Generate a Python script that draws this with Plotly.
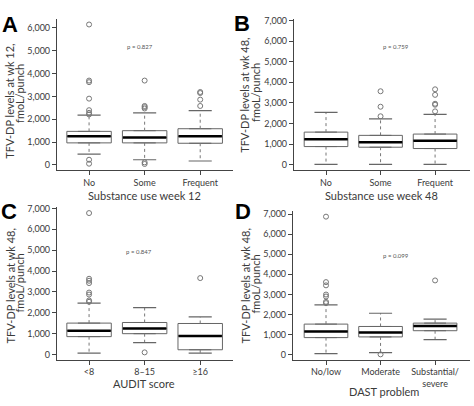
import plotly.graph_objects as go
from plotly.subplots import make_subplots

# A: substance use week 12
a_cats = ["No", "Some", "Frequent"]
a_q1 = [967, 967, 950]
a_med = [1255, 1198, 1255]
a_q3 = [1470, 1500, 1585]
a_lo = [476, 230, 175]
a_hi = [2180, 2280, 2380]
a_out = [[6140, 3690, 3620, 2900, 2395, 2280, 2210, 230, 57],
         [3690, 2580, 2530, 2470, 115, 45],
         [3190, 3145, 2857, 2580]]
a_p = "p = 0.827"

# B: substance use week 48
b_cats = ["No", "Some", "Frequent"]
b_q1 = [880, 849, 785]
b_med = [1232, 1088, 1168]
b_q3 = [1582, 1424, 1487]
b_lo = [20, 20, 20]
b_hi = [2540, 2224, 2446]
b_out = [[],
         [3565, 2814, 2350],
         [3660, 3390, 2958, 2910, 2590]]
b_p = "p = 0.759"

# C: AUDIT score
c_cats = ["<8", "8–15", "≥16"]
c_q1 = [851, 993, 221]
c_med = [1135, 1245, 883]
c_q3 = [1500, 1530, 1482]
c_lo = [63, 568, 63]
c_hi = [2460, 2240, 1797]
c_out = [[6780, 3628, 3533, 3420, 2966, 2870, 2587, 2522],
         [95],
         [3660]]
c_p = "p = 0.847"

# D: DAST problem
d_cats = ["No/low", "Moderate", "Substantial/<br>severe"]
d_q1 = [849, 883, 1192]
d_med = [1158, 1109, 1423]
d_q3 = [1521, 1403, 1570]
d_lo = [49, 98, 750]
d_hi = [2483, 2061, 1766]
d_out = [[6870, 3612, 3450, 2993, 2895, 2630, 2566],
         [15],
         [3695]]
d_p = "p = 0.099"

W, H = 474, 406
FONT = "Lato"
TXT = "#3a3a3a"
BOX = "#666666"
PT = "#777777"


def px(x):
    return x / W


def py(y):
    return 1 - y / H


fig = make_subplots(rows=2, cols=2)

panels = [
    (1, 1, a_cats, a_q1, a_med, a_q3, a_lo, a_hi, a_out, a_p, (0.92, 5200)),
    (1, 2, b_cats, b_q1, b_med, b_q3, b_lo, b_hi, b_out, b_p, (1.28, 5750)),
    (2, 1, c_cats, c_q1, c_med, c_q3, c_lo, c_hi, c_out, c_p, (0.9, 4920)),
    (2, 2, d_cats, d_q1, d_med, d_q3, d_lo, d_hi, d_out, d_p, (1.28, 4930)),
]

for row, col, cats, q1, med, q3, lo, hi, out, ptxt, ppos in panels:
    # boxes without whiskers (whiskers drawn dotted below)
    fig.add_trace(go.Box(x=cats, q1=q1, median=med, q3=q3,
                         lowerfence=q1, upperfence=q3, width=0.8,
                         fillcolor="white", line=dict(color=BOX, width=1),
                         boxpoints=False, hoverinfo="skip"), row, col)
    wx, wy = [], []
    for c, a, b, l, h in zip(cats, q1, q3, lo, hi):
        wx += [c, c, None, c, c, None]
        wy += [a, l, None, b, h, None]
    fig.add_trace(go.Scatter(x=wx, y=wy, mode="lines",
                             line=dict(color=PT, width=1, dash="dot")), row, col)
    # whisker caps
    fig.add_trace(go.Scatter(x=cats + cats, y=lo + hi, mode="markers",
                             marker=dict(symbol="line-ew", size=16.5, color=BOX,
                                         line=dict(color=BOX, width=1.2))), row, col)
    # thick medians
    fig.add_trace(go.Scatter(x=cats, y=med, mode="markers",
                             marker=dict(symbol="line-ew", size=31, color="black",
                                         line=dict(color="black", width=2.5))), row, col)
    ox, oy = [], []
    for c, vals in zip(cats, out):
        ox += [c] * len(vals)
        oy += vals
    fig.add_trace(go.Scatter(x=ox, y=oy, mode="markers",
                             marker=dict(symbol="circle-open", size=5, color=PT,
                                         line=dict(color=PT, width=1))), row, col)
    fig.add_annotation(x=ppos[0], y=ppos[1], text=ptxt, showarrow=False,
                       xanchor="center", yanchor="middle",
                       font=dict(family=FONT, size=6, color="#555555"), row=row, col=col)

axis_common = dict(showline=True, linecolor="#444444", linewidth=1.2,
                   ticks="outside", ticklen=4, tickcolor="#444444",
                   showgrid=False, zeroline=False, mirror=False,
                   tickfont=dict(family=FONT, size=9, color=TXT))

fig.update_xaxes(**axis_common)
fig.update_yaxes(**axis_common, tickformat=",d", dtick=1000, tick0=0)

fig.update_layout(
    xaxis=dict(domain=[px(57), px(233)], range=[-0.577, 2.59]),
    yaxis=dict(domain=[py(167), py(14)], range=[-216, 6388]),
    xaxis2=dict(domain=[px(294), px(470)], range=[-0.587, 2.64]),
    yaxis2=dict(domain=[py(167), py(14)], range=[-254, 7080]),
    xaxis3=dict(domain=[px(57), px(233)], range=[-0.577, 2.59]),
    yaxis3=dict(domain=[py(359), py(205)], range=[-250, 7048]),
    xaxis4=dict(domain=[px(293), px(470)], range=[-0.605, 2.64]),
    yaxis4=dict(domain=[py(359), py(209)], range=[-245, 7130]),
)

# axis titles, panel letters
xtitles = [("Substance use week 12", 144, 193), ("Substance use week 48", 381, 193),
           ("AUDIT score", 144, 383), ("DAST problem", 384, 391)]
for t, x, y in xtitles:
    fig.add_annotation(x=px(x), y=py(y), xref="paper", yref="paper", text=t,
                       xanchor="center", yanchor="middle", showarrow=False,
                       font=dict(family=FONT, size=11, color=TXT))

ytitles = [("TFV-DP levels at wk 12,", 10, 98), ("fmoL/punch", 20, 90),
           ("TFV-DP levels at wk 48,", 245, 92), ("fmoL/punch", 256, 88),
           ("TFV-DP levels at wk 48,", 10, 285), ("fmoL/punch", 20, 282),
           ("TFV-DP levels at wk 48,", 245, 285), ("fmoL/punch", 256, 282)]
for t, x, y in ytitles:
    fig.add_annotation(x=px(x), y=py(y), xref="paper", yref="paper", text=t,
                       textangle=-90, xanchor="center", yanchor="middle", showarrow=False,
                       font=dict(family=FONT, size=11, color=TXT))

letters = [("A", 10, 20), ("B", 242, 19), ("C", 9, 209), ("D", 243, 209)]
for t, x, y in letters:
    fig.add_annotation(x=px(x), y=py(y), xref="paper", yref="paper", text="<b>%s</b>" % t,
                       xanchor="center", yanchor="middle", showarrow=False,
                       font=dict(family="Liberation Sans", size=22, color="black"))

fig.update_layout(width=W, height=H, margin=dict(l=0, r=0, t=0, b=0),
                  paper_bgcolor="white", plot_bgcolor="white",
                  showlegend=False, font=dict(family=FONT, color=TXT))

fig.write_html("out.html", config={"displayModeBar": False},
               post_script="document.body.style.margin='0';")
